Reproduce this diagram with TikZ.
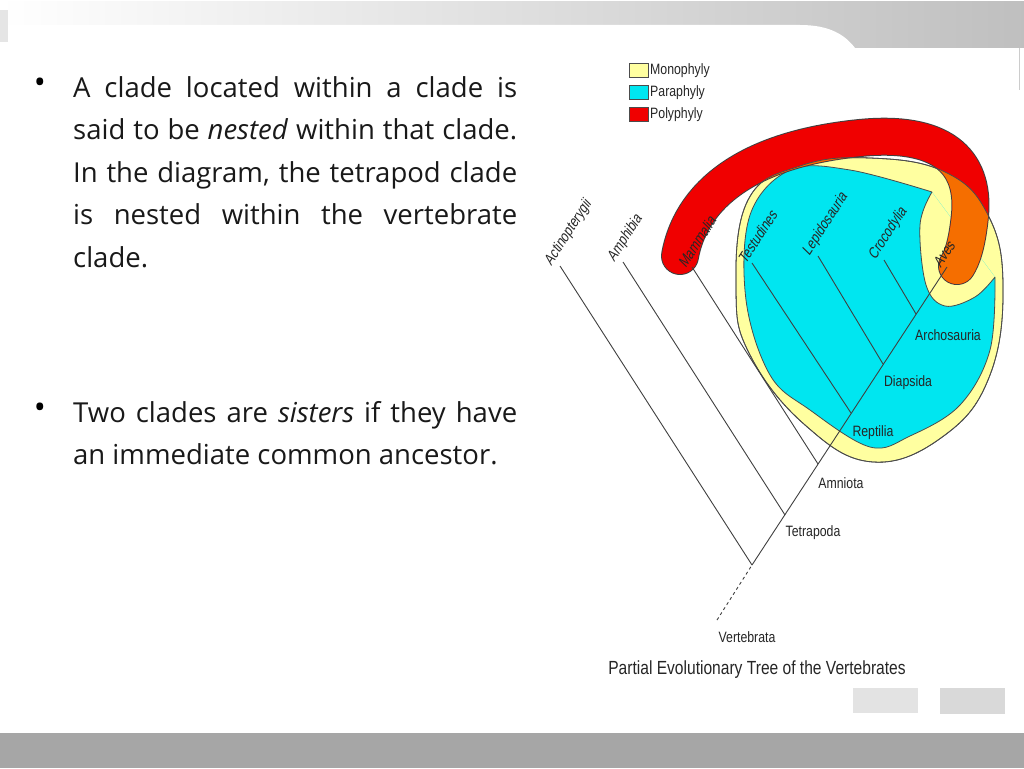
\documentclass[tikz,border=0pt]{standalone}
\usepackage{fontspec}
\setmainfont{Open Sans}
\newfontfamily\lsans[FakeStretch=0.82]{Liberation Sans}
\newfontfamily\lsansi[FakeStretch=0.82,FakeSlant=0.2]{Liberation Sans}
\begin{document}
\begin{tikzpicture}[x=1pt,y=-1pt,
  br/.style={line width=0.9pt,black!75},
  lab/.style={font=\lsans\fontsize{15}{15}\selectfont,text=black!85,inner sep=1pt},
  rlab/.style={font=\lsansi\fontsize{15}{15}\selectfont,text=black!85,rotate=57,anchor=south west,inner sep=0pt},
  bullet/.style={text width=444pt,align=justify,anchor=north west,inner sep=0pt,font=\fontsize{27.5}{42.5}\selectfont,text=black!90}]
\definecolor{cy}{RGB}{0,230,240}
\definecolor{yl}{RGB}{255,255,160}
\definecolor{rd}{RGB}{240,0,0}
\definecolor{or}{RGB}{245,110,0}
\useasboundingbox (0,0) rectangle (1024,768);
\fill[white] (0,0) rectangle (1024,768);
% top bar
\shade[left color=white,right color=black!25] (0,2) rectangle (1024,48);
\fill[white] (0,25) -- (800,25) .. controls (830,25) and (845,35) .. (855,48) -- (0,48) -- cycle;
\fill[black!10] (0,10) rectangle (8,42);
\draw[black!20,line width=1pt] (1019,48) -- (1019,90);
% bottom
\fill[black!35] (0,733) rectangle (1024,768);
\fill[black!11] (853,688) rectangle (918,713);
\fill[black!15] (940,688) rectangle (1005,714);
% bullets
\node[bullet] (b1) at (73,76) {A clade located within a clade is said to be \textit{nested} within that clade. In the diagram, the tetrapod clade is nested within the vertebrate clade.};
\node[font=\fontsize{32}{42.5}\selectfont,anchor=north] (d1) at (40,74) {•};
\node[bullet] (b2) at (73,401) {Two clades are \textit{sisters} if they have an immediate common ancestor.};
\node[font=\fontsize{32}{42.5}\selectfont,anchor=north] (d2) at (40,399) {•};
% legend
\draw[black!70,fill=yl] (629,63) rectangle (648,77);
\draw[black!70,fill=cy] (629,85) rectangle (648,99);
\draw[black!70,fill=rd] (629,107) rectangle (648,121);
\node[lab,anchor=west] (m) at (649,71) {Monophyly};
\node[lab,anchor=west] (p) at (649,93) {Paraphyly};
\node[lab,anchor=west] (q) at (649,115) {Polyphyly};
% yellow blob
\def\yel{plot[smooth cycle,tension=0.7] coordinates{(736,290) (748,200) (800,166) (870,158) (945,172) (988,215) (1003,285) (990,375) (945,435) (873,462) (805,425) (750,355)}}
\draw[black!70,line width=0.8pt,fill=yl] \yel;
% cyan blob
\draw[black!70,line width=0.8pt,fill=cy] plot[smooth,tension=0.6] coordinates{(932,192) (920,225) (926,285) (945,306) (975,297) (995,277)} -- (995,277) plot[smooth,tension=0.6] coordinates{(995,277) (990,350) (960,405) (910,436) (870,447) (810,410) (770,375) (746,300) (750,215) (790,170) (850,170) (932,192)};
% red band
\def\band{(680,256) .. controls (690,200) and (740,150) .. (860,138) .. controls (940,130) and (975,160) .. (970,215) .. controls (967,245) and (962,258) .. (957,266)}
\draw[line width=38pt,black!75,line cap=round] \band;
\draw[line width=36pt,rd,line cap=round] \band;
\begin{scope}
\clip \yel;
\draw[line width=36pt,or,line cap=round] \band;
\end{scope}
\draw[black!70,line width=0.8pt] \yel;
% tree
\coordinate (v0) at (717,620);
\coordinate (n1) at (752,565);
\coordinate (n2) at (785,515);
\coordinate (n3) at (818,464);
\coordinate (n4) at (851,413);
\coordinate (n5) at (883,364);
\coordinate (n6) at (916,314);
\coordinate (tav) at (947,267);
\coordinate (tac) at (560,266);
\coordinate (tam) at (623,262);
\coordinate (tma) at (692,267);
\coordinate (tte) at (752,263);
\coordinate (tle) at (818,256);
\coordinate (tcr) at (884,260);
\draw[br,dashed] (v0) -- (n1);
\draw[br] (n1) -- (tav);
\draw[br] (n1) -- (tac);
\draw[br] (n2) -- (tam);
\draw[br] (n3) -- (tma);
\draw[br] (n4) -- (tte);
\draw[br] (n5) -- (tle);
\draw[br] (n6) -- (tcr);
\node[rlab] (lac) at ([xshift=-6pt,yshift=-2pt]tac) {Actinopterygii};
\node[rlab] (lam) at ([xshift=-6pt,yshift=-2pt]tam) {Amphibia};
\node[rlab] (lma) at ([xshift=-6pt,yshift=-2pt]tma) {Mammalia};
\node[rlab] (lte) at ([xshift=-6pt,yshift=-2pt]tte) {Testudines};
\node[rlab] (lle) at ([xshift=-6pt,yshift=-2pt]tle) {Lepidosauria};
\node[rlab] (lcr) at ([xshift=-6pt,yshift=-2pt]tcr) {Crocodylia};
\node[rlab] (lav) at ([xshift=-6pt,yshift=-2pt]tav) {Aves};
\node[lab] (vv) at (747,637) {Vertebrata};
\node[lab] (tt) at (813,533) {Tetrapoda};
\node[lab] (aa) at (841,483) {Amniota};
\node[lab] (rr) at (873,433) {Reptilia};
\node[lab] (dd) at (908,383) {Diapsida};
\node[lab] (ar) at (948,335) {Archosauria};
\node[lab,font=\lsans\fontsize{19}{19}\selectfont] (cap) at (757,670) {Partial Evolutionary Tree of the Vertebrates};
\end{tikzpicture}
\end{document}
